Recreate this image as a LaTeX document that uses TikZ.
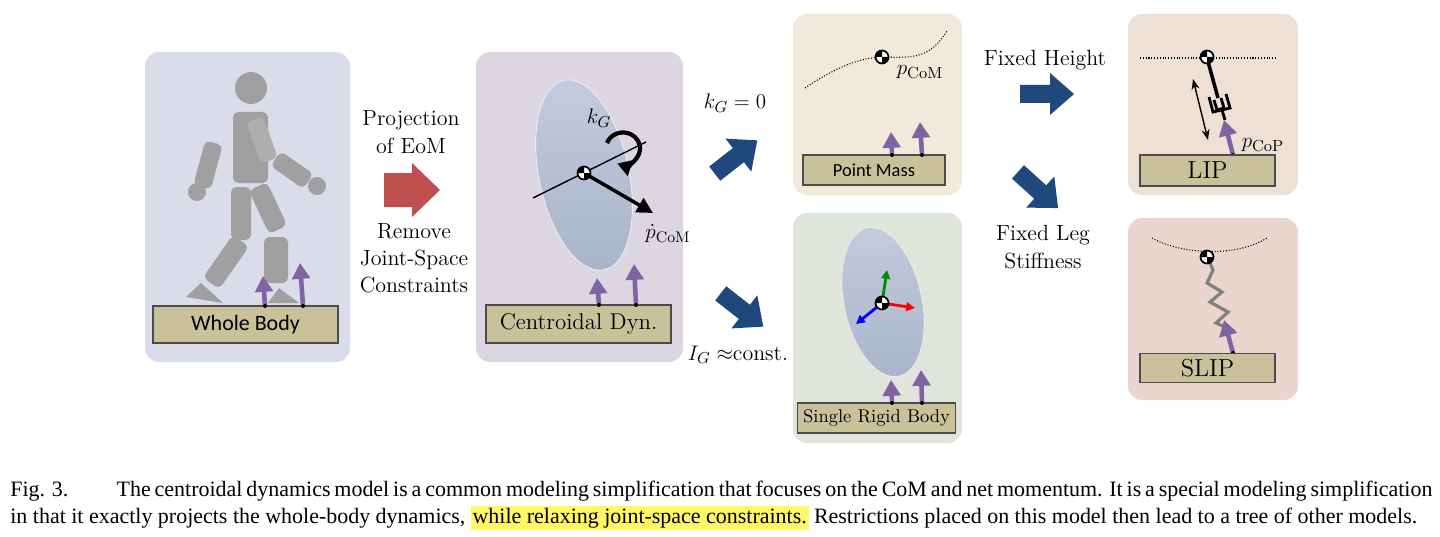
\documentclass[tikz,border=0pt]{standalone}
\usepackage{fontspec}
\newfontfamily\capfont{Liberation Serif}
\newfontfamily\sansf{Carlito}
\usetikzlibrary{arrows.meta,calc}
\definecolor{purp}{HTML}{8064A2}
\definecolor{khaki}{HTML}{C9C19A}
\definecolor{dblue}{HTML}{1F497D}
\definecolor{rred}{HTML}{C0504D}
\definecolor{robot}{HTML}{A0A0A0}
\definecolor{eggtop}{HTML}{C3CBDC}
\definecolor{eggbot}{HTML}{A9B4CA}
\tikzset{
 panel/.style={rounded corners=8pt,draw=none},
 lbox/.style={fill=khaki,draw=black!70,line width=0.6pt},
 force/.style={purp,line width=2.6pt,-{Triangle[length=9pt,width=10pt]}},
 body/.style={fill=robot,rounded corners=3pt},
 bigtext/.style={font=\fontsize{12.5}{15.5}\selectfont,align=center},
 egg/.style={top color=eggtop,bottom color=eggbot,draw=white!85!gray,line width=0.6pt},
 barr/.pic={\fill[dblue] (-27,-9)--(3,-9)--(3,-21)--(27,0)--(3,21)--(3,9)--(-27,9)--cycle;},
 rarr/.pic={\fill[rred] (-28,-17)--(0,-17)--(0,-27)--(28,0)--(0,27)--(0,17)--(-28,17)--cycle;},
 com/.pic={\fill[white] (0,0) circle (6.5);\fill[black] (0,0)--(6.5,0) arc(0:90:6.5)--cycle;\fill[black](0,0)--(-6.5,0) arc(180:270:6.5)--cycle;\draw[line width=1pt](0,0) circle (6.5);},
}
\begin{document}
\begin{tikzpicture}[x=0.02cm,y=-0.02cm]
\useasboundingbox (0,0) rectangle (1440,537);
% panels
\fill[panel,fill={rgb,255:red,218;green,220;blue,234}] (145,52) rectangle (350,362);
\fill[panel,fill={rgb,255:red,220;green,213;blue,226}] (476,52) rectangle (683,362);
\fill[panel,fill={rgb,255:red,242;green,233;blue,218}] (793,14) rectangle (962,195);
\fill[panel,fill={rgb,255:red,224;green,229;blue,220}] (793,213) rectangle (962,443);
\fill[panel,fill={rgb,255:red,239;green,224;blue,214}] (1128,14) rectangle (1298,195);
\fill[panel,fill={rgb,255:red,235;green,214;blue,207}] (1128,218) rectangle (1298,400);
% robot
\fill[robot] (251,88) circle (16);
\fill[body] (233,112) rectangle (268,183);
\fill[body,rotate around={-15:(208,165)}] (199,142) rectangle (217,188);
\fill[robot] (197,192) circle (9);
\fill[robot!85!white,rounded corners=3pt,rotate around={20:(262,140)}] (253,118) rectangle (271,162);
\fill[body,rotate around={-35:(292,170)}] (272,161) rectangle (312,179);
\fill[robot] (317,186) circle (9);
\fill[body] (231,187) rectangle (251,240);
\fill[body,rotate around={25:(268,208)}] (258,184) rectangle (278,232);
\fill[body,rotate around={-35:(226,262)}] (216,236) rectangle (236,288);
\fill[body] (264,237) rectangle (288,283);
\fill[robot] (186,297)--(201,283)--(223,303)--cycle;
\fill[robot] (268,303)--(279,288)--(299,303)--cycle;
\node[lbox,minimum width=185*0.02cm,minimum height=37*0.02cm,font=\sansf\fontsize{12.5}{14}\selectfont] (wb) at (245.5,324.5) {Whole Body};
\draw[force] (265,306)--(263,276); \fill (265,306) circle (2);
\draw[force] (303,306)--(300,263); \fill (303,306) circle (2);
% centroidal
\fill[egg,rotate around={12:(584,175)}] (584,175) ellipse (45 and 97);
\draw[line width=0.8pt] (533,198)--(646,142);
\draw[line width=2.4pt,-{Triangle[length=8pt,width=9pt]}] (607,143) arc[start angle=-160,end angle=110,x radius=17,y radius=16];
\draw[line width=2pt,-{Triangle[length=9pt,width=9pt]}] (584,173)--(653,213);
\pic at (584,173) {com};
\node[font=\fontsize{12.5}{14}\selectfont] (kg) at (599,118) {$k_G$};
\node[font=\fontsize{12.5}{14}\selectfont] (pd) at (668,234) {$\dot p_{\mathrm{CoM}}$};
\node[lbox,minimum width=185*0.02cm,minimum height=38*0.02cm,font=\fontsize{13}{14}\selectfont] (cd) at (578.5,324) {Centroidal Dyn.};
\draw[force] (599,305)--(597,278); \fill (599,305) circle (2);
\draw[force] (636,305)--(634,264); \fill (636,305) circle (2);
% middle texts and red arrow
\node[bigtext] (proj) at (411,132) {Projection\\of EoM};
\node[bigtext] (rem) at (414,258) {Remove\\Joint-Space\\Constraints};
\pic at (412,190) {rarr};
% blue arrows
\pic[rotate=38] at (736,157) {barr};
\pic[rotate=-38] at (742,310) {barr};
\pic at (1047,94) {barr};
\pic[rotate=-42] at (1038,190) {barr};
\node[font=\fontsize{12.5}{14}\selectfont] (k0) at (735,103) {$k_G=0$};
\node[font=\fontsize{12.5}{14}\selectfont] (ig) at (738,355) {$I_G\approx$const.};
\node[bigtext] (fh) at (1045,60) {Fixed Height};
\node[bigtext] (fl) at (1043,247) {Fixed Leg\\Stiffness};
% point mass
\draw[densely dotted,line width=0.6pt] (805,88) .. controls (835,68) and (858,58) .. (882,57) .. controls (915,58) and (930,58) .. (947,31);
\pic at (882,57) {com};
\node[font=\fontsize{13}{14}\selectfont] (pc) at (920,72) {$p_{\mathrm{CoM}}$};
\node[lbox,minimum width=142*0.02cm,minimum height=30*0.02cm,font=\sansf\fontsize{10.5}{12}\selectfont] (pm) at (874,170) {Point Mass};
\draw[force] (892,155)--(891,132); \fill (892,155) circle (2);
\draw[force] (922,155)--(920,122); \fill (922,155) circle (2);
% single rigid body
\fill[egg,rotate around={12:(883,302)}] (883,302) ellipse (39 and 76);
\draw[green!55!black,line width=1.6pt,-{Triangle[length=5pt,width=5pt]}] (882,303)--(887,270);
\draw[red,line width=1.6pt,-{Triangle[length=5pt,width=5pt]}] (882,303)--(915,308);
\draw[blue,line width=1.6pt,-{Triangle[length=5pt,width=5pt]}] (882,303)--(856,324);
\pic at (882,303) {com};
\node[lbox,minimum width=147*0.02cm,minimum height=30*0.02cm,font=\fontsize{10.5}{12}\selectfont] (srb) at (876.5,418) {Single Rigid Body};
\draw[force] (892,403)--(891,380); \fill (892,403) circle (2);
\draw[force] (922,403)--(921,370); \fill (922,403) circle (2);
% LIP
\draw[densely dotted,line width=0.6pt] (1140,58)--(1275,58);
\draw[line width=2pt] (1207,58)--(1218,98);
\draw[line width=1.6pt] (1209,97)--(1213,112)--(1230,108)--(1226,94);
\draw[line width=1.6pt] (1214,100)--(1217,110)--(1224,108)--(1221,98);
\draw[line width=1.6pt] (1222,110)--(1225,120);
\draw[line width=0.8pt,{Stealth[length=6pt]}-{Stealth[length=6pt]}] (1193,79)--(1208,140);
\draw[force] (1233,155)--(1224,120); \fill (1233,155) circle (2);
\pic at (1207,57) {com};
\node[font=\fontsize{13}{14}\selectfont] (pcop) at (1263,145) {$p_{\mathrm{CoP}}$};
\node[lbox,minimum width=135*0.02cm,minimum height=31*0.02cm,font=\fontsize{14}{14}\selectfont] (lip) at (1207.5,170.5) {LIP};
% SLIP
\draw[densely dotted,line width=0.6pt] (1152,238) .. controls (1180,254) and (1235,258) .. (1267,238);
\draw[gray,line width=1.8pt] (1210,263)--(1213,270)--(1207,283)--(1222,292)--(1210,302)--(1228,312)--(1216,323)--(1234,331);
\draw[force] (1233,353)--(1224,320); \fill (1233,353) circle (2);
\pic at (1207,257) {com};
\node[lbox,minimum width=135*0.02cm,minimum height=29*0.02cm,font=\fontsize{14}{14}\selectfont] (slip) at (1207.5,368) {SLIP};
% caption
\node[anchor=north west,inner sep=0pt,text width=1422*0.02cm,align=justify,font=\capfont\fontsize{12.5}{15}\selectfont] (cap) at (10,481) {Fig. 3.\hspace{2.2em}The centroidal dynamics model is a common modeling simplification that focuses on the CoM and net momentum. It is a special modeling simplification in that it exactly projects the whole-body dynamics, {\setlength\fboxsep{1pt}\colorbox{yellow!60}{while relaxing joint-space constraints.}} Restrictions placed on this model then lead to a tree of other models.};
\end{tikzpicture}
\end{document}
